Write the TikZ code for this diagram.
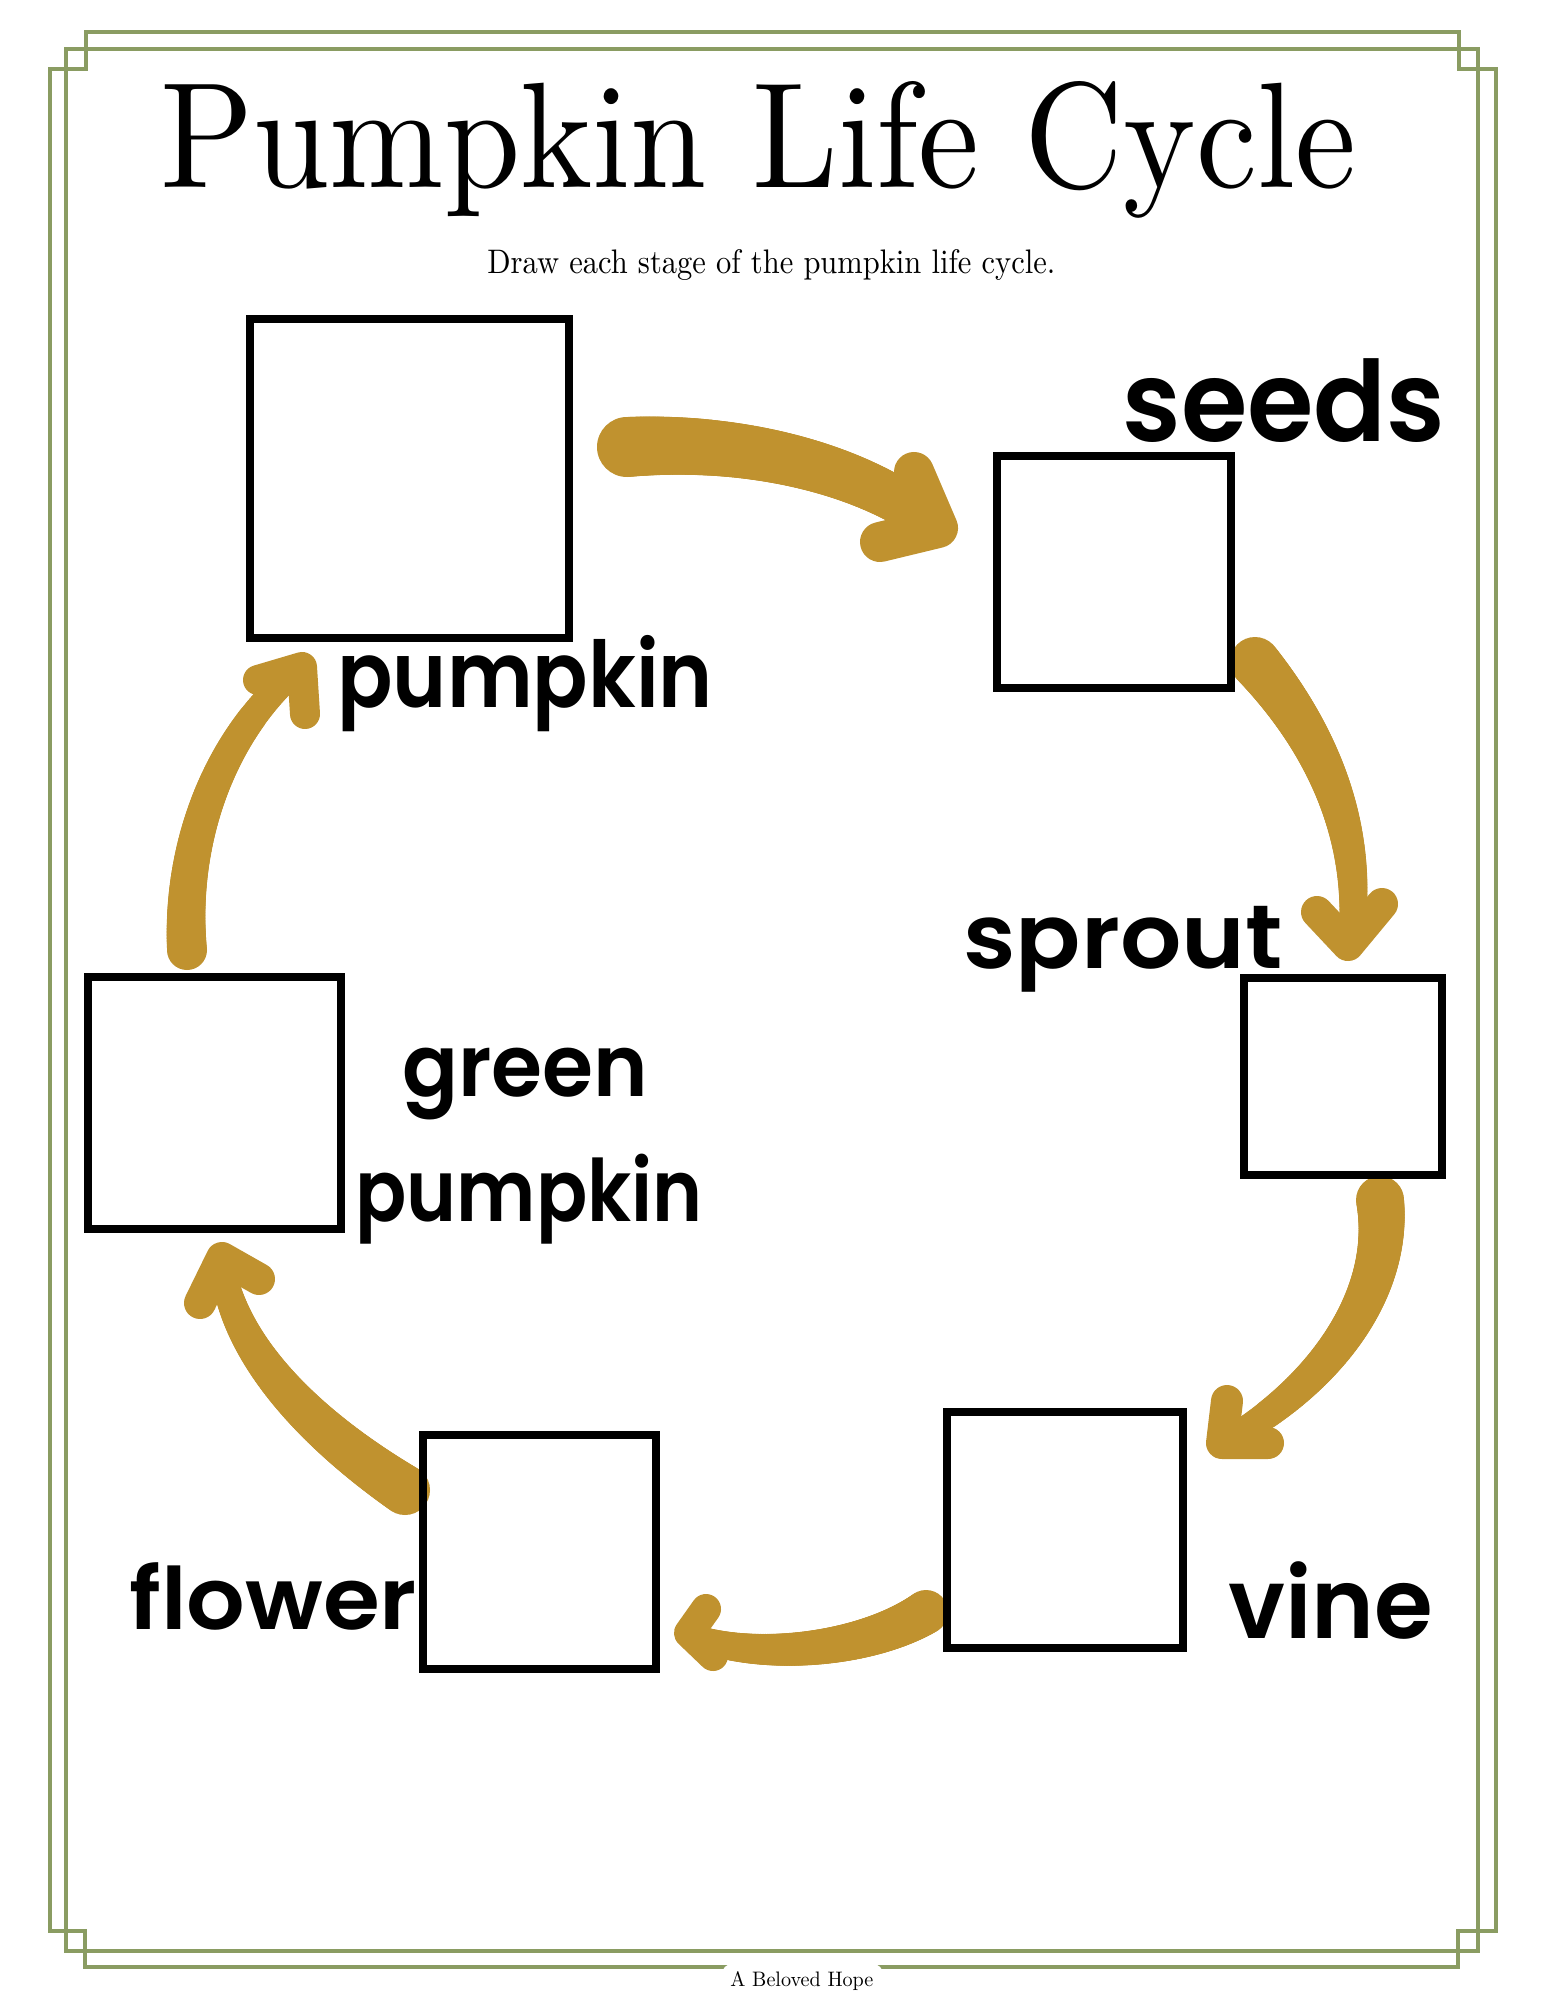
\documentclass[tikz,border=0pt]{standalone}
\usepackage{fontspec}
\newfontfamily\lab{Poppins}[UprightFont={* SemiBold}]
\definecolor{olive}{RGB}{138,156,98}
\definecolor{gold}{RGB}{192,146,47}
\newcommand\brush[6]{%
  \foreach \bt in {0,0.01,...,1.0}{%
    \pgfmathsetmacro\rr{0.25*(#5+(#6-#5)*\bt)}%
    \path (#1) .. controls (#2) and (#3) .. (#4) coordinate[pos=\bt] (bp);
    \fill[gold] (bp) circle[radius=\rr pt];
  }}
\begin{document}
\begin{tikzpicture}[x=0.5pt,y=-0.5pt,
  frame/.style={draw=olive, line width=2.25pt},
  stagebox/.style={draw=black, line width=4pt, inner sep=0pt, outer sep=0pt},
  lab/.style={inner sep=0pt, anchor=base west, text=black},
  headst/.style={draw=gold, line cap=round, line join=round}]
\useasboundingbox (0,0) rectangle (1545,2000);
\fill[white] (0,0) rectangle (1545,2000);
% border
\draw[frame] (86,32) -- (1459,32) -- (1459,69) -- (1496,69) -- (1496,1931) -- (1458,1931) -- (1458,1967) -- (85,1967) -- (85,1931) -- (50,1931) -- (50,69) -- (86,69) -- cycle;
\draw[frame] (66,49) rectangle (1478,1951);
% footer
\fill[white, rounded corners=5pt] (722,1964) rectangle (883,2010);
\node[inner sep=0pt, anchor=base west] (footer) at (730,1986) {\resizebox{71.5pt}{7.5pt}{A Beloved Hope}};
% title
\node[inner sep=0pt, anchor=base west] (title) at (160,188) {\resizebox{597.5pt}{53pt}{Pumpkin Life Cycle}};
\node[inner sep=0pt, anchor=base west] (subtitle) at (487,274) {\resizebox{284pt}{12pt}{Draw each stage of the pumpkin life cycle.}};
% arrows
\coordinate (a1s) at (627,447); \coordinate (a1c) at (735,440); \coordinate (a1d) at (850,464); \coordinate (a1e) at (925,518);
\coordinate (h1a) at (914,472); \coordinate (h1v) at (938,528); \coordinate (h1b) at (880,542);
\brush{a1s}{a1c}{a1d}{a1e}{60}{44}
\draw[headst, line width=20pt] (h1a) -- (h1v) -- (h1b);
\coordinate (a2s) at (1255,662); \coordinate (a2c) at (1310,725); \coordinate (a2d) at (1362,815); \coordinate (a2e) at (1352,930);
\coordinate (h2a) at (1317,912); \coordinate (h2v) at (1348,945); \coordinate (h2b) at (1382,904);
\brush{a2s}{a2c}{a2d}{a2e}{50}{26}
\draw[headst, line width=16pt] (h2a) -- (h2v) -- (h2b);
\coordinate (a3s) at (1380,1200); \coordinate (a3c) at (1392,1290); \coordinate (a3d) at (1330,1378); \coordinate (a3e) at (1238,1434);
\coordinate (h3a) at (1227,1401); \coordinate (h3v) at (1222,1443); \coordinate (h3b) at (1268,1443);
\brush{a3s}{a3c}{a3d}{a3e}{48}{26}
\draw[headst, line width=16pt] (h3a) -- (h3v) -- (h3b);
\coordinate (a4s) at (926,1612); \coordinate (a4c) at (870,1648); \coordinate (a4d) at (770,1660); \coordinate (a4e) at (703,1640);
\coordinate (h4a) at (706,1609); \coordinate (h4v) at (689,1633); \coordinate (h4b) at (713,1656);
\brush{a4s}{a4c}{a4d}{a4e}{44}{26}
\draw[headst, line width=15pt] (h4a) -- (h4v) -- (h4b);
\coordinate (a5s) at (405,1490); \coordinate (a5c) at (320,1435); \coordinate (a5d) at (240,1360); \coordinate (a5e) at (224,1275);
\coordinate (h5a) at (200,1303); \coordinate (h5v) at (222,1258); \coordinate (h5b) at (259,1279);
\brush{a5s}{a5c}{a5d}{a5e}{50}{26}
\draw[headst, line width=16pt] (h5a) -- (h5v) -- (h5b);
\coordinate (a6s) at (187,950); \coordinate (a6c) at (180,850); \coordinate (a6d) at (215,745); \coordinate (a6e) at (288,678);
\coordinate (h6a) at (258,680); \coordinate (h6v) at (302,667); \coordinate (h6b) at (305,714);
\brush{a6s}{a6c}{a6d}{a6e}{40}{26}
\draw[headst, line width=15pt] (h6a) -- (h6v) -- (h6b);
% boxes
\node[stagebox, minimum width=159.5pt, minimum height=159.5pt] (bpumpkin) at (409.5,478.5) {};
\node[stagebox, minimum width=117pt, minimum height=116pt] (bseeds) at (1114,572) {};
\node[stagebox, minimum width=99pt, minimum height=98.5pt] (bsprout) at (1343,1076.5) {};
\node[stagebox, minimum width=118pt, minimum height=118pt] (bvine) at (1065,1530) {};
\node[stagebox, minimum width=116.5pt, minimum height=117pt] (bflower) at (539.5,1552) {};
\node[stagebox, minimum width=126.5pt, minimum height=126pt] (bgreen) at (214.5,1103) {};
% labels
\node[lab, font=\lab\fontsize{56pt}{60pt}\selectfont] (lseeds) at (1122,442) {\scalebox{0.96}[1]{seeds}};
\node[lab, font=\lab\fontsize{46pt}{50pt}\selectfont] (lpumpkin) at (337,707) {\scalebox{0.89}[1]{pumpkin}};
\node[lab, font=\lab\fontsize{45pt}{50pt}\selectfont] (lsprout) at (963,968) {\scalebox{1.07}[1]{sprout}};
\node[lab, font=\lab\fontsize{43pt}{50pt}\selectfont] (lgreen) at (402,1096) {\scalebox{0.96}[1]{green}};
\node[lab, font=\lab\fontsize{43pt}{50pt}\selectfont] (lgpumpkin) at (355,1221) {\scalebox{0.88}[1]{pumpkin}};
\node[lab, font=\lab\fontsize{43pt}{50pt}\selectfont] (lflower) at (129,1629) {\scalebox{1.07}[1]{flower}};
\node[lab, font=\lab\fontsize{49pt}{50pt}\selectfont] (lvine) at (1228,1638) {\scalebox{0.97}[1]{vine}};
\end{tikzpicture}
\end{document}
